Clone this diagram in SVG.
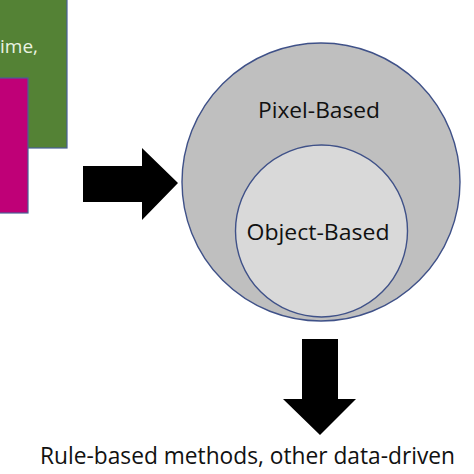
<svg xmlns="http://www.w3.org/2000/svg" width="474" height="474" viewBox="0 0 474 474">
<style>
.lbl{font-family:"Open Sans",Lato,"Liberation Sans",sans-serif;fill:#111}
.box{stroke:#4a5f96;stroke-width:1.2}
.circ{stroke:#3f5188;stroke-width:1.4}
.arrow{fill:#000}
</style>
<rect width="474" height="474" fill="#fff"/>
<g id="green-box">
<rect class="box" x="-5" y="-5" width="72" height="153" fill="#548235"/>
<text x="38" y="53" text-anchor="end" font-family="'Open Sans',Lato,'Liberation Sans',sans-serif" font-size="19" fill="#eaf3e2" textLength="38" lengthAdjust="spacingAndGlyphs">ime,</text>
</g>
<g id="magenta-box">
<rect class="box" x="-5" y="78" width="33" height="135" fill="#bf0077"/>
</g>
<g id="pixel-based">
<circle class="circ" cx="321" cy="182" r="139" fill="#bfbfbf"/>
<text class="lbl" x="319" y="118" text-anchor="middle" font-size="22.5" textLength="122" lengthAdjust="spacingAndGlyphs">Pixel-Based</text>
</g>
<g id="object-based">
<circle class="circ" cx="321.5" cy="231" r="86" fill="#d9d9d9"/>
<text class="lbl" x="318" y="240" text-anchor="middle" font-size="22.5" textLength="143" lengthAdjust="spacingAndGlyphs">Object-Based</text>
</g>
<g id="connectors">
<polygon class="arrow" points="83,166 142,166 142,148 178,183 142,220 142,202 83,202"/>
<polygon class="arrow" points="302,339 338,339 338,399 356,399 320,435 283,399 302,399"/>
</g>
<g id="output-label">
<text class="lbl" x="40" y="464" font-size="24.5" textLength="415" lengthAdjust="spacingAndGlyphs">Rule-based methods, other data-driven</text>
</g>
</svg>
